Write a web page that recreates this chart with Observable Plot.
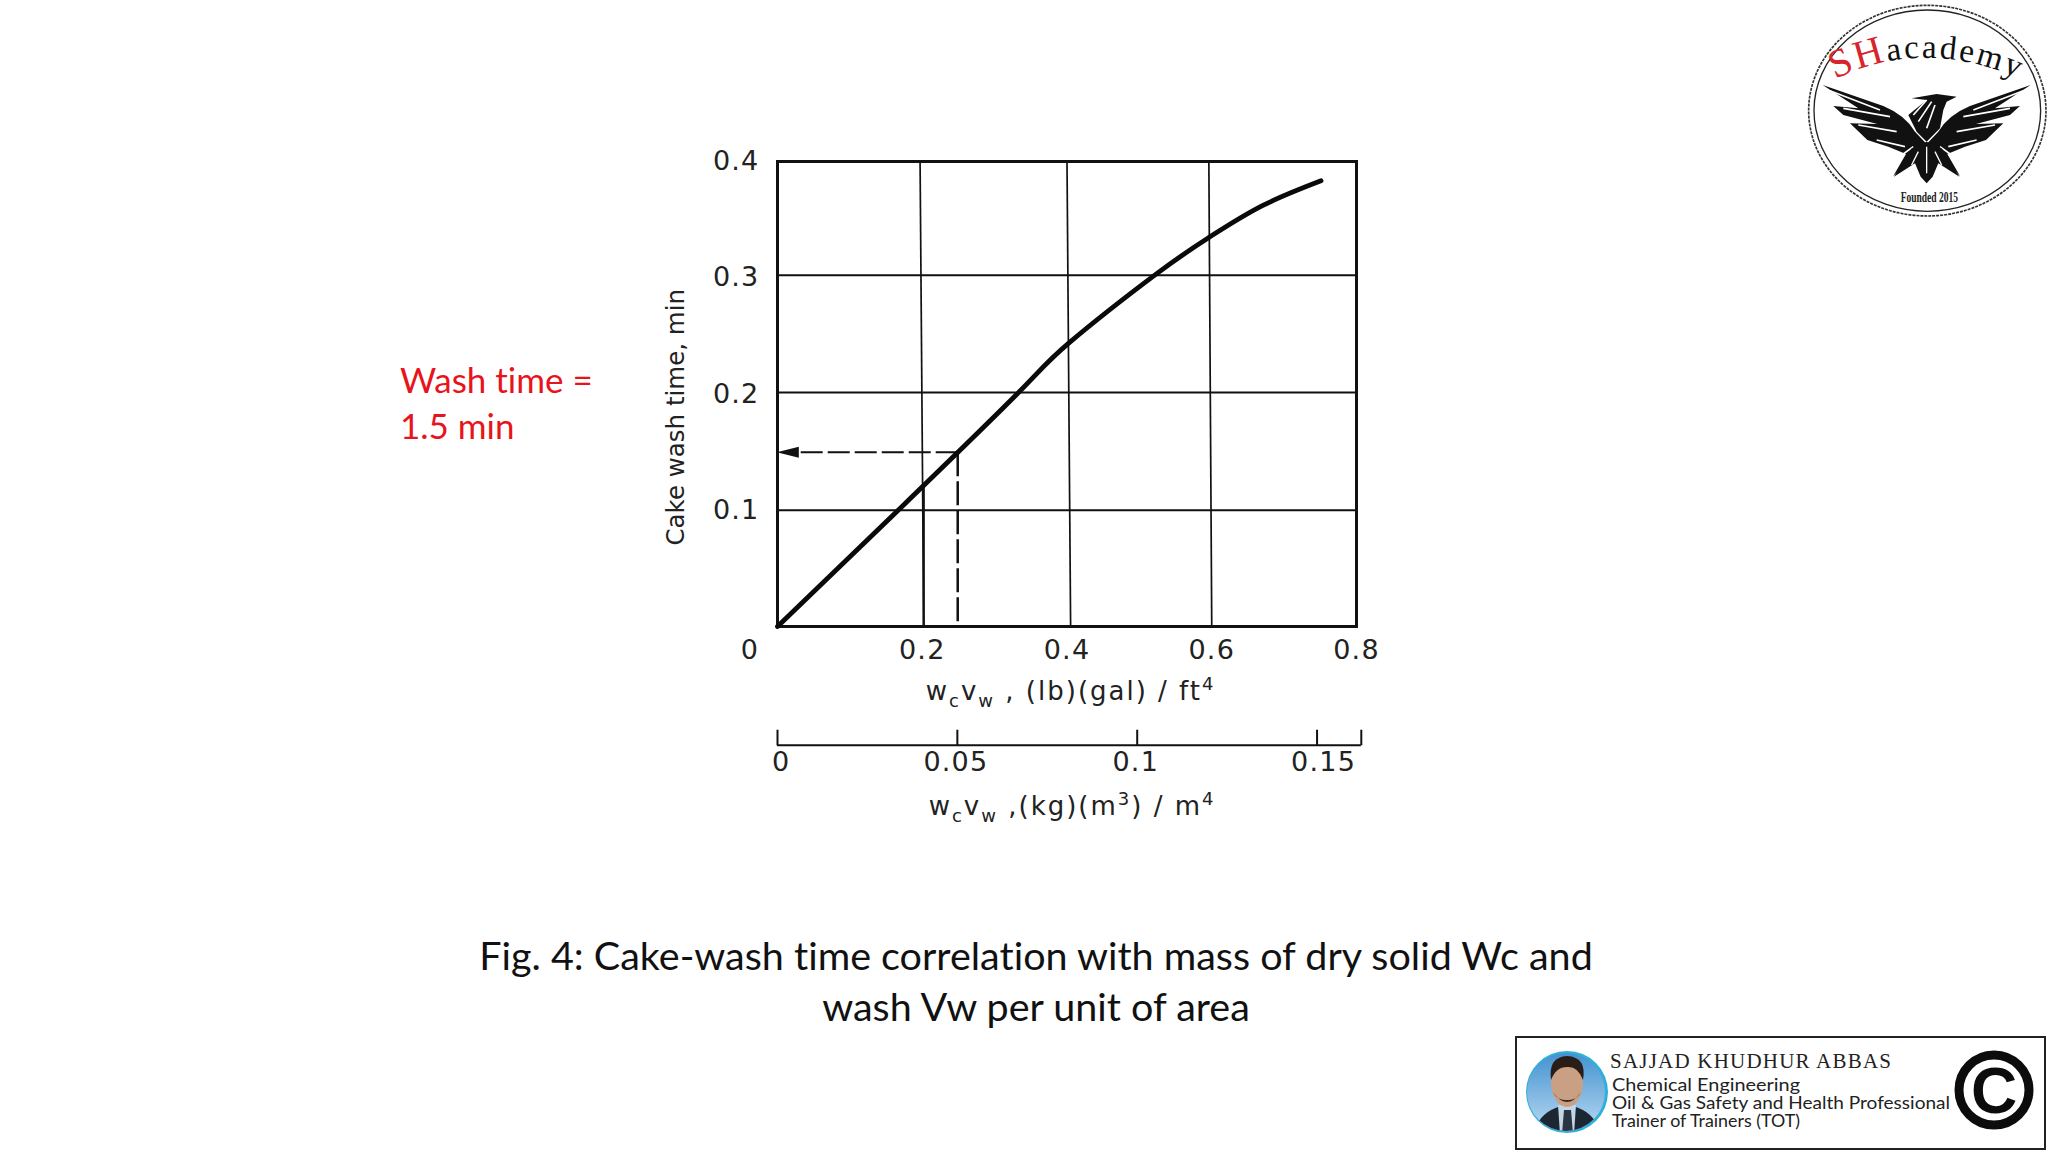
<!DOCTYPE html>
<html><head><meta charset="utf-8">
<script src="https://cdn.jsdelivr.net/npm/d3@7"></script>
<script src="https://cdn.jsdelivr.net/npm/@observablehq/plot@0.6"></script>
<style>
html,body{margin:0;padding:0;background:#fff;width:2048px;height:1152px;overflow:hidden;position:relative}
#chart{position:absolute;left:0;top:0}
#chart text{letter-spacing:1.2px}
.cap{position:absolute;font-family:Lato,"Open Sans",sans-serif;color:#111;font-variant-ligatures:none}
#caption{left:0;top:929px;width:2072px;text-align:center;font-size:39.5px;line-height:51px}
#wash{left:400px;top:355.5px;font-size:35px;line-height:46px;color:#e8141c}
.over{position:absolute;left:0;top:0}
</style></head><body>
<div id="chart"></div>
<div class="cap" id="wash">Wash time =<br>1.5 min</div>
<div class="cap" id="caption">Fig. 4: Cake-wash time correlation with mass of dry solid Wc and<br>wash Vw per unit of area</div>
<svg class="over" width="2048" height="1152" viewBox="0 0 2048 1152">
  <defs>
    <linearGradient id="sky" x1="0" y1="0" x2="0" y2="1"><stop offset="0" stop-color="#3f8fd0"/><stop offset="1" stop-color="#bcdcf2"/></linearGradient>
    <path id="arc" d="M165 238 Q440 105 735 245"/>
    <clipPath id="av"><circle cx="1566" cy="1092" r="39"/></clipPath>
  </defs>
  <g transform="translate(1780,0) scale(0.3333)">
    <ellipse cx="442" cy="332" rx="356" ry="316" fill="none" stroke="#333" stroke-width="5" stroke-dasharray="9 3"/>
    <ellipse cx="442" cy="332" rx="340" ry="302" fill="none" stroke="#222" stroke-width="4"/>
    <text font-family="Liberation Serif" font-size="100" fill="#111"><textPath href="#arc" textLength="565" lengthAdjust="spacing"><tspan fill="#d8242c" font-size="120">SH</tspan>academy</textPath></text>
    <g id="wing" fill="#111">
      <path d="M128 255 L310 318 Q375 345 405 395 L440 432 L340 528 L378 462 L325 440 L262 420 L210 370 L292 372 L190 345 L160 318 L235 325 Z"/>
      <g stroke="#fff" stroke-width="5" fill="none"><path d="M150 272 L300 330 M190 325 L330 350 M235 375 L350 395 M290 420 L375 440 M345 480 L400 440"/></g>
    </g>
    <use href="#wing" transform="translate(880,0) scale(-1,1)"/>
    <path d="M385 345 L440 300 L395 295 L470 282 L530 290 L500 305 L490 330 L480 385 L440 425 L410 395 Z" fill="#111"/>
    <path d="M440 300 L400 345 M455 305 L415 365 M465 315 L440 385" stroke="#fff" stroke-width="5"/>
    <path d="M395 445 L440 425 L485 445 L538 530 L475 490 L458 530 L440 550 L422 530 L405 490 L342 530 Z" fill="#111"/>
    <path d="M440 440 L440 520 M415 455 L395 495 M465 455 L485 495" stroke="#fff" stroke-width="4"/>
    <text x="448" y="606" text-anchor="middle" font-family="Liberation Serif" font-weight="bold" font-size="42" fill="#222" textLength="172" lengthAdjust="spacingAndGlyphs">Founded 2015</text>
  </g>
  <rect x="1516" y="1037" width="529" height="112" fill="#fff" stroke="#222" stroke-width="2"/>
  <circle cx="1567" cy="1092" r="41" fill="#2fb0d8"/>
  <g clip-path="url(#av)">
    <rect x="1520" y="1050" width="92" height="84" fill="url(#sky)"/>
    <path d="M1534 1134 Q1538 1112 1562 1106 L1572 1106 Q1596 1112 1600 1134 Z" fill="#1d2733"/>
    <path d="M1558 1105 L1576 1105 L1574 1134 L1560 1134 Z" fill="#c3d6e6"/>
    <path d="M1564 1110 L1571 1110 L1573 1134 L1562 1134 Z" fill="#2b3442"/>
    <ellipse cx="1567" cy="1083" rx="16" ry="24" fill="#c9a083"/>
    <path d="M1551 1080 Q1548 1057 1567 1056 Q1587 1057 1583 1080 Q1578 1066 1567 1067 Q1556 1067 1551 1080 Z" fill="#2a1d18"/>
    <path d="M1553 1092 Q1567 1112 1581 1092 Q1576 1101 1567 1100 Q1558 1101 1553 1092 Z" fill="#3b2a22"/>
  </g>
  <text x="1610" y="1068" font-family="Liberation Serif" font-size="21" fill="#222" textLength="281" lengthAdjust="spacing">SAJJAD KHUDHUR ABBAS</text>
  <g font-family="Lato,'Open Sans',sans-serif" font-size="18" fill="#222">
    <text x="1612" y="1091" textLength="188" lengthAdjust="spacingAndGlyphs">Chemical Engineering</text>
    <text x="1612" y="1109" textLength="338" lengthAdjust="spacingAndGlyphs">Oil &amp; Gas Safety and Health Professional</text>
    <text x="1612" y="1127" textLength="188" lengthAdjust="spacingAndGlyphs">Trainer of Trainers (TOT)</text>
  </g>
  <circle cx="1994" cy="1090" r="35" fill="none" stroke="#0c0c0c" stroke-width="9"/>
  <text x="1994" y="1113" text-anchor="middle" font-family="Liberation Sans" font-weight="bold" font-size="64" fill="#0c0c0c">C</text>
</svg>
<script>
// main curve
const curveX = [0, 0.17, 0.332, 0.402, 0.524, 0.597, 0.67, 0.751];
const curveY = [0, 0.102, 0.2006, 0.2435, 0.3035, 0.335, 0.362, 0.3834];
// grid (the scan is slightly skewed and uneven)
const gridXTop = [0.197, 0.4, 0.596];
const gridXBottom = [0.202, 0.405, 0.6];
const gridY = [0.1, 0.2012, 0.3022];
// axes
const xTicks = [0.2, 0.4, 0.6, 0.8];
const yTicks = [0.1, 0.2, 0.3, 0.4];
const kgTicks = [0, 0.05, 0.1, 0.15];
const kgEnd = 0.1623;
const kgToLb = 4.97;
const kgAxisY = -0.1022, kgTickY = -0.0888;
// reading
const readX = 0.249, readY = 0.15;

const points = curveX.map((x, i) => ({x, y: curveY[i]}));
const kgX = k => k * kgToLb;

const arrowHead = {draw(c, s){ c.moveTo(-13,0); c.lineTo(9,-5.5); c.lineTo(9,5.5); c.closePath(); }};

const plot = Plot.plot({
  width: 2048, height: 1152,
  marginLeft: 777, marginRight: 692, marginTop: 161, marginBottom: 526,
  style: {fontFamily: "DejaVu Sans", background: "transparent", color: "#222"},
  x: {domain: [0, 0.8], label: null},
  y: {domain: [0, 0.4], label: null},
  marks: [
    Plot.axisX({ticks: xTicks, tickSize: 0, tickPadding: 13, fontSize: 27, tickFormat: d => String(d), label: null}),
    Plot.axisY({ticks: yTicks, tickSize: 0, tickPadding: 18, fontSize: 27, tickFormat: d => String(d), label: null}),
    Plot.text(["0"], {x: -0.038, y: -0.0205, text: d => d, fontSize: 27, fill: "#222"}),
    Plot.ruleY(gridY, {stroke: "#111", strokeWidth: 2}),
    Plot.link(gridXTop, {x1: d => d, x2: (d, i) => gridXBottom[i], y1: 0.4, y2: 0, stroke: "#111", strokeWidth: 1.7}),
    Plot.link([0], {x1: 0.202, x2: 0.202, y1: 0.12, y2: 0, stroke: "#111", strokeWidth: 2.3}),
    Plot.frame({stroke: "#111", strokeWidth: 3}),
    Plot.link([0], {x1: readX, x2: 0.012, y1: readY, y2: readY, stroke: "#111", strokeWidth: 2, strokeDasharray: "22 5"}),
    Plot.link([0], {x1: readX, x2: readX, y1: readY, y2: 0, stroke: "#111", strokeWidth: 2.5, strokeDasharray: "24 5"}),
    Plot.dot([0], {x: 0.017, y: readY, symbol: arrowHead, r: 6, fill: "#111", stroke: "none"}),
    Plot.line(points, {x: "x", y: "y", curve: "natural", stroke: "#0a0a0a", strokeWidth: 4.8}),
    // second (SI) scale below the chart
    Plot.ruleY([kgAxisY], {x1: 0, x2: kgX(kgEnd), stroke: "#111", strokeWidth: 2}),
    Plot.link(kgTicks.concat([kgEnd]), {x1: kgX, x2: kgX, y1: kgAxisY, y2: kgTickY, stroke: "#111", strokeWidth: 2}),
    Plot.text(kgTicks, {x: d => kgX(d) + (d === 0.15 ? 0.009 : d === 0 ? 0.005 : -0.002), y: -0.1165, text: d => String(d), fontSize: 27, fill: "#222"}),
    Plot.text(["Cake wash time, min"], {x: -0.14, y: 0.18, text: d => d, rotate: -90, fontSize: 24.5, fill: "#222"}),
    Plot.text(["XLB"], {x: 0.405, y: -0.056, text: d => d, fontSize: 26, fill: "#222"}),
    Plot.text(["XKG"], {x: 0.407, y: -0.155, text: d => d, fontSize: 26, fill: "#222"})
  ]
});
document.getElementById("chart").append(plot);

// rich labels with sub/superscripts as real text
const lbLabel = [["w",0],["c",1],["v",0],["w",1],[" , (lb)(gal) / ft",0],["4",-1]];
const kgLabel = [["w",0],["c",1],["v",0],["w",1],[" ,(kg)(m",0],["3",-1],[") / m",0],["4",-1]];
function rich(node, segs){
  node.textContent = "";
  node.style.letterSpacing = "2px";
  let prev = 0;
  for (const [t, k] of segs){
    const sp = document.createElementNS("http://www.w3.org/2000/svg","tspan");
    const off = k === 1 ? 7 : k === -1 ? -10 : 0;
    sp.setAttribute("dy", off - prev); prev = off;
    if (k) sp.setAttribute("font-size", 18);
    sp.textContent = t;
    node.appendChild(sp);
  }
}
d3.select(plot).selectAll("text").each(function(){
  if (this.textContent === "XLB") rich(this, lbLabel);
  if (this.textContent === "XKG") rich(this, kgLabel);
  if (this.textContent === "Cake wash time, min") this.style.letterSpacing = "0";
});
</script>
</body></html>
